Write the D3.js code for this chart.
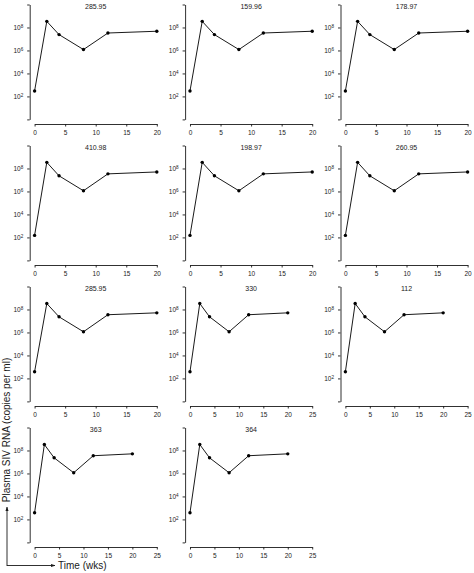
<!DOCTYPE html>
<html>
<head>
<meta charset="utf-8">
<script src="https://cdn.jsdelivr.net/npm/d3@7"></script>
<style>
  html, body { margin: 0; padding: 0; background: #fff; }
  svg { display: block; font-family: "Liberation Sans", Arial, sans-serif; }
</style>
</head>
<body>
<svg id="chart" width="474" height="573"></svg>
<script>
// ---- data ----
const panelTitles = ["285.95", "159.96", "178.97", "410.98", "198.97", "260.95", "285.95", "330", "112", "363", "364"];
const panelXMax = [20, 20, 20, 20, 20, 20, 20, 25, 25, 25, 25];
const weeks = [0, 2, 4, 8, 12, 20];
const viralLoad = [
  [300, 3.4e8, 2.4e7, 1.2e6, 3.3e7, 4.7e7],
  [300, 3.4e8, 2.4e7, 1.2e6, 3.3e7, 4.7e7],
  [300, 3.4e8, 2.4e7, 1.2e6, 3.3e7, 4.7e7],
  [150, 3.4e8, 2.3e7, 1.15e6, 3.4e7, 5.0e7],
  [150, 3.4e8, 2.3e7, 1.15e6, 3.4e7, 5.0e7],
  [150, 3.4e8, 2.3e7, 1.15e6, 3.4e7, 5.0e7],
  [380, 3.3e8, 2.3e7, 1.15e6, 3.5e7, 5.1e7],
  [380, 3.3e8, 2.3e7, 1.15e6, 3.5e7, 5.1e7],
  [380, 3.3e8, 2.3e7, 1.15e6, 3.5e7, 5.1e7],
  [380, 3.3e8, 2.3e7, 1.15e6, 3.5e7, 5.1e7],
  [380, 3.3e8, 2.3e7, 1.15e6, 3.5e7, 5.1e7]
];
const yTickValues = [1, 1e2, 1e4, 1e6, 1e8, 1e10];
const yTickExponents = ["", "2", "4", "6", "8", ""];
const xTicks20 = [0, 5, 10, 15, 20];
const xTicks25 = [0, 5, 10, 15, 20, 25];
const yAxisTitle = "Plasma SIV RNA (copies per ml)";
const xAxisTitle = "Time (wks)";

// ---- layout ----
const svg = d3.select("#chart");
const colLefts = [29.7, 185.1, 340.5];
const panelW = 132;
const rowPitch = 141;
const ink = "#1a1a1a";

panelTitles.forEach((title, i) => {
  const r = Math.floor(i / 3), c = i % 3;
  const left = colLefts[c];
  const xmax = panelXMax[i];
  const yTop = 4.5 + r * rowPitch, yBot = 119.4 + r * rowPitch;
  const xAxisY = 124 + r * rowPitch;

  const x = d3.scaleLinear().domain([-0.04 * xmax, 1.04 * xmax]).range([left, left + panelW]);
  const y = d3.scaleLog().domain([1, 1e10]).range([yBot, yTop]);

  const g = svg.append("g");

  // y axis
  const yAx = g.append("g")
    .attr("transform", `translate(${left},0)`)
    .call(d3.axisLeft(y).tickValues(yTickValues).tickSize(2.5).tickSizeOuter(0).tickPadding(4)
      .tickFormat((d, k) => yTickExponents[k] ? "10" : ""));
  yAx.select(".domain").attr("stroke", ink).attr("stroke-width", 0.9);
  yAx.selectAll(".tick line").attr("stroke", ink).attr("stroke-width", 0.9);
  yAx.selectAll(".tick text").attr("font-size", 6.5).attr("fill", ink)
    .each(function(d, k) {
      if (yTickExponents[k]) {
        d3.select(this).append("tspan").attr("font-size", 4.6).attr("dy", "-0.5em").text(yTickExponents[k]);
      }
    });

  // x axis (axis line spans 0..xmax)
  const xa = x.copy().domain([0, xmax]).range([x(0), x(xmax)]);
  const xAx = g.append("g")
    .attr("transform", `translate(0,${xAxisY})`)
    .call(d3.axisBottom(xa).tickValues(xmax === 25 ? xTicks25 : xTicks20).tickSize(2.5).tickSizeOuter(0).tickPadding(4)
      .tickFormat(d3.format("d")));
  xAx.select(".domain").attr("stroke", ink).attr("stroke-width", 0.9);
  xAx.selectAll(".tick line").attr("stroke", ink).attr("stroke-width", 0.9);
  xAx.selectAll(".tick text").attr("font-size", 6.5).attr("fill", ink);

  // title
  g.append("text")
    .attr("x", left + panelW / 2).attr("y", 8.6 + r * rowPitch)
    .attr("text-anchor", "middle").attr("font-size", 7).attr("fill", ink)
    .text(title);

  // series
  const pts = weeks.map((w, k) => [w, viralLoad[i][k]]);
  g.append("path")
    .attr("d", d3.line().x(d => x(d[0])).y(d => y(d[1]))(pts))
    .attr("fill", "none").attr("stroke", ink).attr("stroke-width", 1);
  g.selectAll("circle").data(pts).join("circle")
    .attr("cx", d => x(d[0])).attr("cy", d => y(d[1])).attr("r", 1.7).attr("fill", "#000");
});

// ---- global axis titles with arrows ----
const defs = svg.append("defs");
defs.append("marker").attr("id", "arr").attr("viewBox", "0 0 10 10")
  .attr("refX", 9).attr("refY", 5).attr("markerWidth", 5).attr("markerHeight", 5)
  .attr("orient", "auto")
  .append("path").attr("d", "M0,1.5 L10,5 L0,8.5 Z").attr("fill", ink);

svg.append("line").attr("x1", 7).attr("y1", 566).attr("x2", 7).attr("y2", 507)
  .attr("stroke", ink).attr("stroke-width", 0.9).attr("marker-end", "url(#arr)");
svg.append("line").attr("x1", 7).attr("y1", 565.5).attr("x2", 55).attr("y2", 565.5)
  .attr("stroke", ink).attr("stroke-width", 0.9).attr("marker-end", "url(#arr)");

svg.append("text")
  .attr("transform", "translate(10,430) rotate(-90)")
  .attr("text-anchor", "middle").attr("font-size", 10).attr("fill", ink)
  .text(yAxisTitle);
svg.append("text")
  .attr("x", 58).attr("y", 569)
  .attr("font-size", 10).attr("fill", ink)
  .text(xAxisTitle);
</script>
</body>
</html>
